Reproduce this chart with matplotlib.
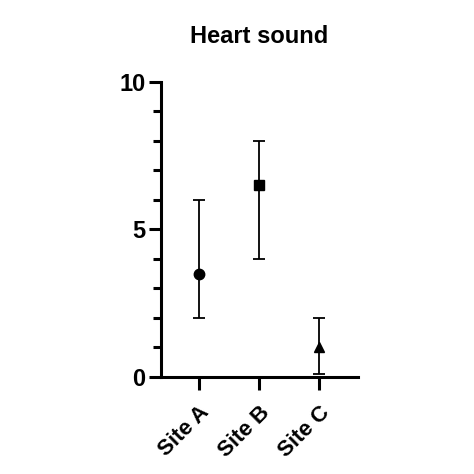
import matplotlib
matplotlib.use("Agg")
import matplotlib.pyplot as plt
import numpy as np
from matplotlib.ticker import MultipleLocator

plt.rcParams["font.family"] = ["Liberation Sans", "DejaVu Sans"]
plt.rcParams["font.weight"] = "bold"

# data
sites = ["Site A", "Site B", "Site C"]
means = [3.5, 6.5, 1.0]
lower = [2.0, 4.0, 0.1]
upper = [6.0, 8.0, 2.0]
markers = ["o", "s", "^"]

fig = plt.figure(figsize=(4.74, 4.74), dpi=100)
ax = fig.add_axes([0.3397, 0.2046, 0.4156, 0.623])

x = np.arange(len(sites))
for i in range(len(sites)):
    yerr = [[means[i] - lower[i]], [upper[i] - means[i]]]
    ax.errorbar(
        x[i], means[i], yerr=yerr,
        fmt=markers[i], color="black", markersize=7.5,
        elinewidth=1.3, capsize=4, capthick=1.3,
    )

ax.set_xlim(-0.63, 2.65)
ax.set_ylim(0, 10)
ax.set_xticks(x)
ax.set_xticklabels(sites, rotation=45, ha="right", rotation_mode="anchor",
                   fontsize=16, fontweight="bold")
ax.yaxis.set_major_locator(MultipleLocator(5))
ax.yaxis.set_minor_locator(MultipleLocator(1))
for lab in ax.get_yticklabels():
    lab.set_fontsize(17)
    lab.set_fontweight("bold")

for side in ["top", "right"]:
    ax.spines[side].set_visible(False)
for side in ["left", "bottom"]:
    ax.spines[side].set_linewidth(2.2)

ax.tick_params(axis="y", which="major", length=9, width=2.2, pad=2)
ax.tick_params(axis="y", which="minor", length=6, width=2.2)
ax.tick_params(axis="x", which="major", length=9, width=2.2, pad=9)

ax.set_title("Heart sound", fontsize=17, fontweight="bold", pad=28)

fig.savefig("out.png", dpi=100)
